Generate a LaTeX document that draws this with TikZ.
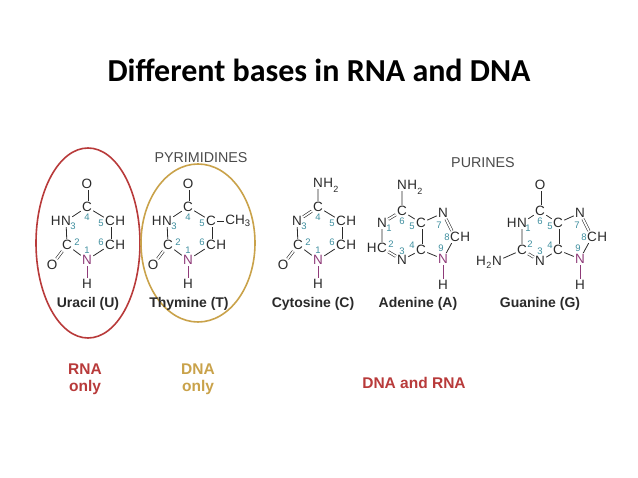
\documentclass[tikz,border=0pt]{standalone}
\usepackage{fontspec}
\setmainfont{Liberation Sans}
\newfontfamily\titlefont{Carlito}
\definecolor{tealc}{HTML}{3E8E9E}
\definecolor{purp}{HTML}{8E3A78}
\definecolor{bondc}{HTML}{2A2A2A}
\definecolor{redc}{HTML}{B83A3A}
\definecolor{goldc}{HTML}{C9A24A}
\tikzset{
 atom/.style={font=\fontsize{13.5}{12}\selectfont, inner sep=1.2pt, text=bondc},
 hh/.style={font=\fontsize{13.5}{12}\selectfont, inner sep=0pt, text=bondc},
 pn/.style={atom, text=purp},
 num/.style={font=\fontsize{9.5}{9}\selectfont, text=tealc, inner sep=0pt},
 bd/.style={draw=bondc, line width=0.8pt},
 db/.style={draw=bondc, double, double distance=1.8pt, line width=0.6pt},
 pb/.style={draw=purp, line width=0.8pt},
 sub/.style={font=\fontsize{9}{8}\selectfont, inner sep=0pt, text=bondc},
 lab/.style={font=\bfseries\fontsize{14}{12}\selectfont, text=bondc},
 hr/.style={hh,anchor=west,xshift=-1.2pt},
 hl/.style={hh,anchor=east,xshift=1.2pt},
}
\begin{document}
\begin{tikzpicture}[x=1pt,y=-1pt]
\useasboundingbox (0,0) rectangle (638,478);
\node[font=\titlefont\bfseries\fontsize{32}{32}\selectfont] (title) at (319,70) {Different bases in RNA and DNA};
\node[font=\fontsize{14.3}{12}\selectfont, text=bondc!85] (pyr) at (201,158) {PYRIMIDINES};
\node[font=\fontsize{14.3}{12}\selectfont, text=bondc!85] (pur) at (483,163) {PURINES};
\draw[redc, line width=1.6pt] (88,243) ellipse [x radius=52, y radius=95];
\draw[goldc, line width=1.6pt] (198,243) ellipse [x radius=57, y radius=79];
% ---- Uracil / Thymine ----
\foreach \dx/\nm in {0/u,101/t}{
\begin{scope}[xshift=\dx]
\node[atom] (\nm o4) at (87,184) {O};
\node[atom] (\nm c4) at (87,207) {C};
\node[atom] (\nm n3) at (66,221) {N};
\node[hl] at (\nm n3.west) {H};
\node[atom] (\nm c5) at (110,221) {C};
\node[atom] (\nm c6) at (110,245) {C};
\node[hr] at (\nm c6.east) {H};
\node[atom] (\nm c2) at (67,245) {C};
\node[pn] (\nm n1) at (87,260) {N};
\node[atom] (\nm o2) at (52,265) {O};
\node[atom] (\nm h1) at (87,284) {H};
\node[num] at (87,217) {4};
\node[num] at (73,226) {3};
\node[num] at (101,223) {5};
\node[num] at (101,242) {6};
\node[num] at (77,242) {2};
\node[num] at (87,250) {1};
\draw[db] (\nm o4)--(\nm c4);
\draw[bd] (\nm c4)--(\nm n3) (\nm n3)--(\nm c2) (\nm c4)--(\nm c5) (\nm c2)--(\nm n1) (\nm n1)--(\nm c6);
\draw[db] (\nm c5)--(\nm c6);
\draw[db] (\nm c2)--(\nm o2);
\draw[pb] (\nm n1)--(\nm h1);
\end{scope}}
\node[hr] at (uc5.east) {H};
\node[atom,anchor=west] (tme) at (224,221) {CH\textsubscript{3}};
\draw[bd] (tc5)--(tme);
\node[lab] (ulab) at (88,304) {Uracil (U)};
\node[lab] (tlab) at (189,304) {Thymine (T)};
% ---- Cytosine ----
\begin{scope}[xshift=231]
\node[atom] (cn4) at (87,183) {N};
\node[hr] (cnh) at (cn4.east) {H};
\node[sub,anchor=north west] at ([yshift=-3pt]cnh.east) {2};
\node[atom] (cc4) at (87,207) {C};
\node[atom] (cn3) at (66,221) {N};
\node[atom] (cc5) at (110,221) {C};
\node[hr] at (cc5.east) {H};
\node[atom] (cc6) at (110,245) {C};
\node[hr] at (cc6.east) {H};
\node[atom] (cc2) at (67,245) {C};
\node[pn] (cn1) at (87,260) {N};
\node[atom] (co2) at (52,265) {O};
\node[atom] (ch1) at (87,284) {H};
\node[num] at (87,217) {4};
\node[num] at (73,226) {3};
\node[num] at (101,223) {5};
\node[num] at (101,242) {6};
\node[num] at (77,242) {2};
\node[num] at (87,250) {1};
\draw[bd] (cn4)--(cc4) (cn3)--(cc2) (cc4)--(cc5) (cc2)--(cn1) (cn1)--(cc6);
\draw[db] (cc4)--(cn3);
\draw[db] (cc5)--(cc6);
\draw[db] (cc2)--(co2);
\draw[pb] (cn1)--(ch1);
\end{scope}
\node[lab] (clab) at (313,304) {Cytosine (C)};
% ---- Adenine ----
\node[atom] (an6) at (402,185) {N};
\node[hr] (anh) at (an6.east) {H};
\node[sub,anchor=north west] at ([yshift=-3pt]anh.east) {2};
\node[atom] (ac6) at (402,211) {C};
\node[atom] (an1) at (382,223) {N};
\node[atom] (ac2) at (382,248) {C};
\node[hl] at (ac2.west) {H};
\node[atom] (an3) at (402,260) {N};
\node[atom] (ac4) at (421,250) {C};
\node[atom] (ac5) at (421,223) {C};
\node[atom] (an7) at (443,213) {N};
\node[atom] (ac8) at (455,237) {C};
\node[hr] at (ac8.east) {H};
\node[pn] (an9) at (443,259) {N};
\node[atom] (ah9) at (443,285) {H};
\node[num] at (389,228) {1};
\node[num] at (402,221) {6};
\node[num] at (391,244) {2};
\node[num] at (402,251) {3};
\node[num] at (412,245) {4};
\node[num] at (412,226) {5};
\node[num] at (439,225) {7};
\node[num] at (447,237) {8};
\node[num] at (441,248) {9};
\draw[bd] (an6)--(ac6) (ac6)--(ac5) (an1)--(ac2) (an3)--(ac4) (ac5)--(an7) (ac8)--(an9) (an9)--(ac4);
\draw[db] (ac6)--(an1);
\draw[db] (ac2)--(an3);
\draw[db] (ac4)--(ac5);
\draw[db] (an7)--(ac8);
\draw[pb] (an9)--(ah9);
\node[lab] (alab) at (418,304) {Adenine (A)};
% ---- Guanine ----
\node[atom] (go6) at (540,185) {O};
\node[atom] (gc6) at (540,211) {C};
\node[atom] (gn1) at (522,223) {N};
\node[hl] at (gn1.west) {H};
\node[atom] (gc2) at (522,250) {C};
\node[atom] (gn2) at (497,261) {N};
\node[sub,anchor=north east] (g2s) at ([xshift=0.8pt,yshift=-1pt]gn2.west) {2};
\node[hh,anchor=east] (gnh) at ([yshift=1pt]g2s.north west) {H};
\node[atom] (gn3) at (540,261) {N};
\node[atom] (gc4) at (558,250) {C};
\node[atom] (gc5) at (558,223) {C};
\node[atom] (gn7) at (580,213) {N};
\node[atom] (gc8) at (592,237) {C};
\node[hr] at (gc8.east) {H};
\node[pn] (gn9) at (580,259) {N};
\node[atom] (gh9) at (580,285) {H};
\node[num] at (528,228) {1};
\node[num] at (540,221) {6};
\node[num] at (530,244) {2};
\node[num] at (540,251) {3};
\node[num] at (550,245) {4};
\node[num] at (550,226) {5};
\node[num] at (577,225) {7};
\node[num] at (584,237) {8};
\node[num] at (578,248) {9};
\draw[db] (go6)--(gc6);
\draw[bd] (gc6)--(gn1) (gn1)--(gc2) (gc2)--(gn2) (gc6)--(gc5) (gn3)--(gc4) (gc5)--(gn7) (gc8)--(gn9) (gn9)--(gc4);
\draw[db] (gc2)--(gn3);
\draw[db] (gc4)--(gc5);
\draw[db] (gn7)--(gc8);
\draw[pb] (gn9)--(gh9);
\node[lab] (glab) at (540,304) {Guanine (G)};
% ---- bottom labels ----
\node[font=\bfseries\fontsize{15.5}{17}\selectfont, text=redc, align=center] (rna) at (85,379) {RNA\\only};
\node[font=\bfseries\fontsize{15.5}{17}\selectfont, text=goldc, align=center] (dna) at (198,379) {DNA\\only};
\node[font=\bfseries\fontsize{15.5}{17}\selectfont, text=redc] (both) at (414,383) {DNA and RNA};
\end{tikzpicture}
\end{document}
